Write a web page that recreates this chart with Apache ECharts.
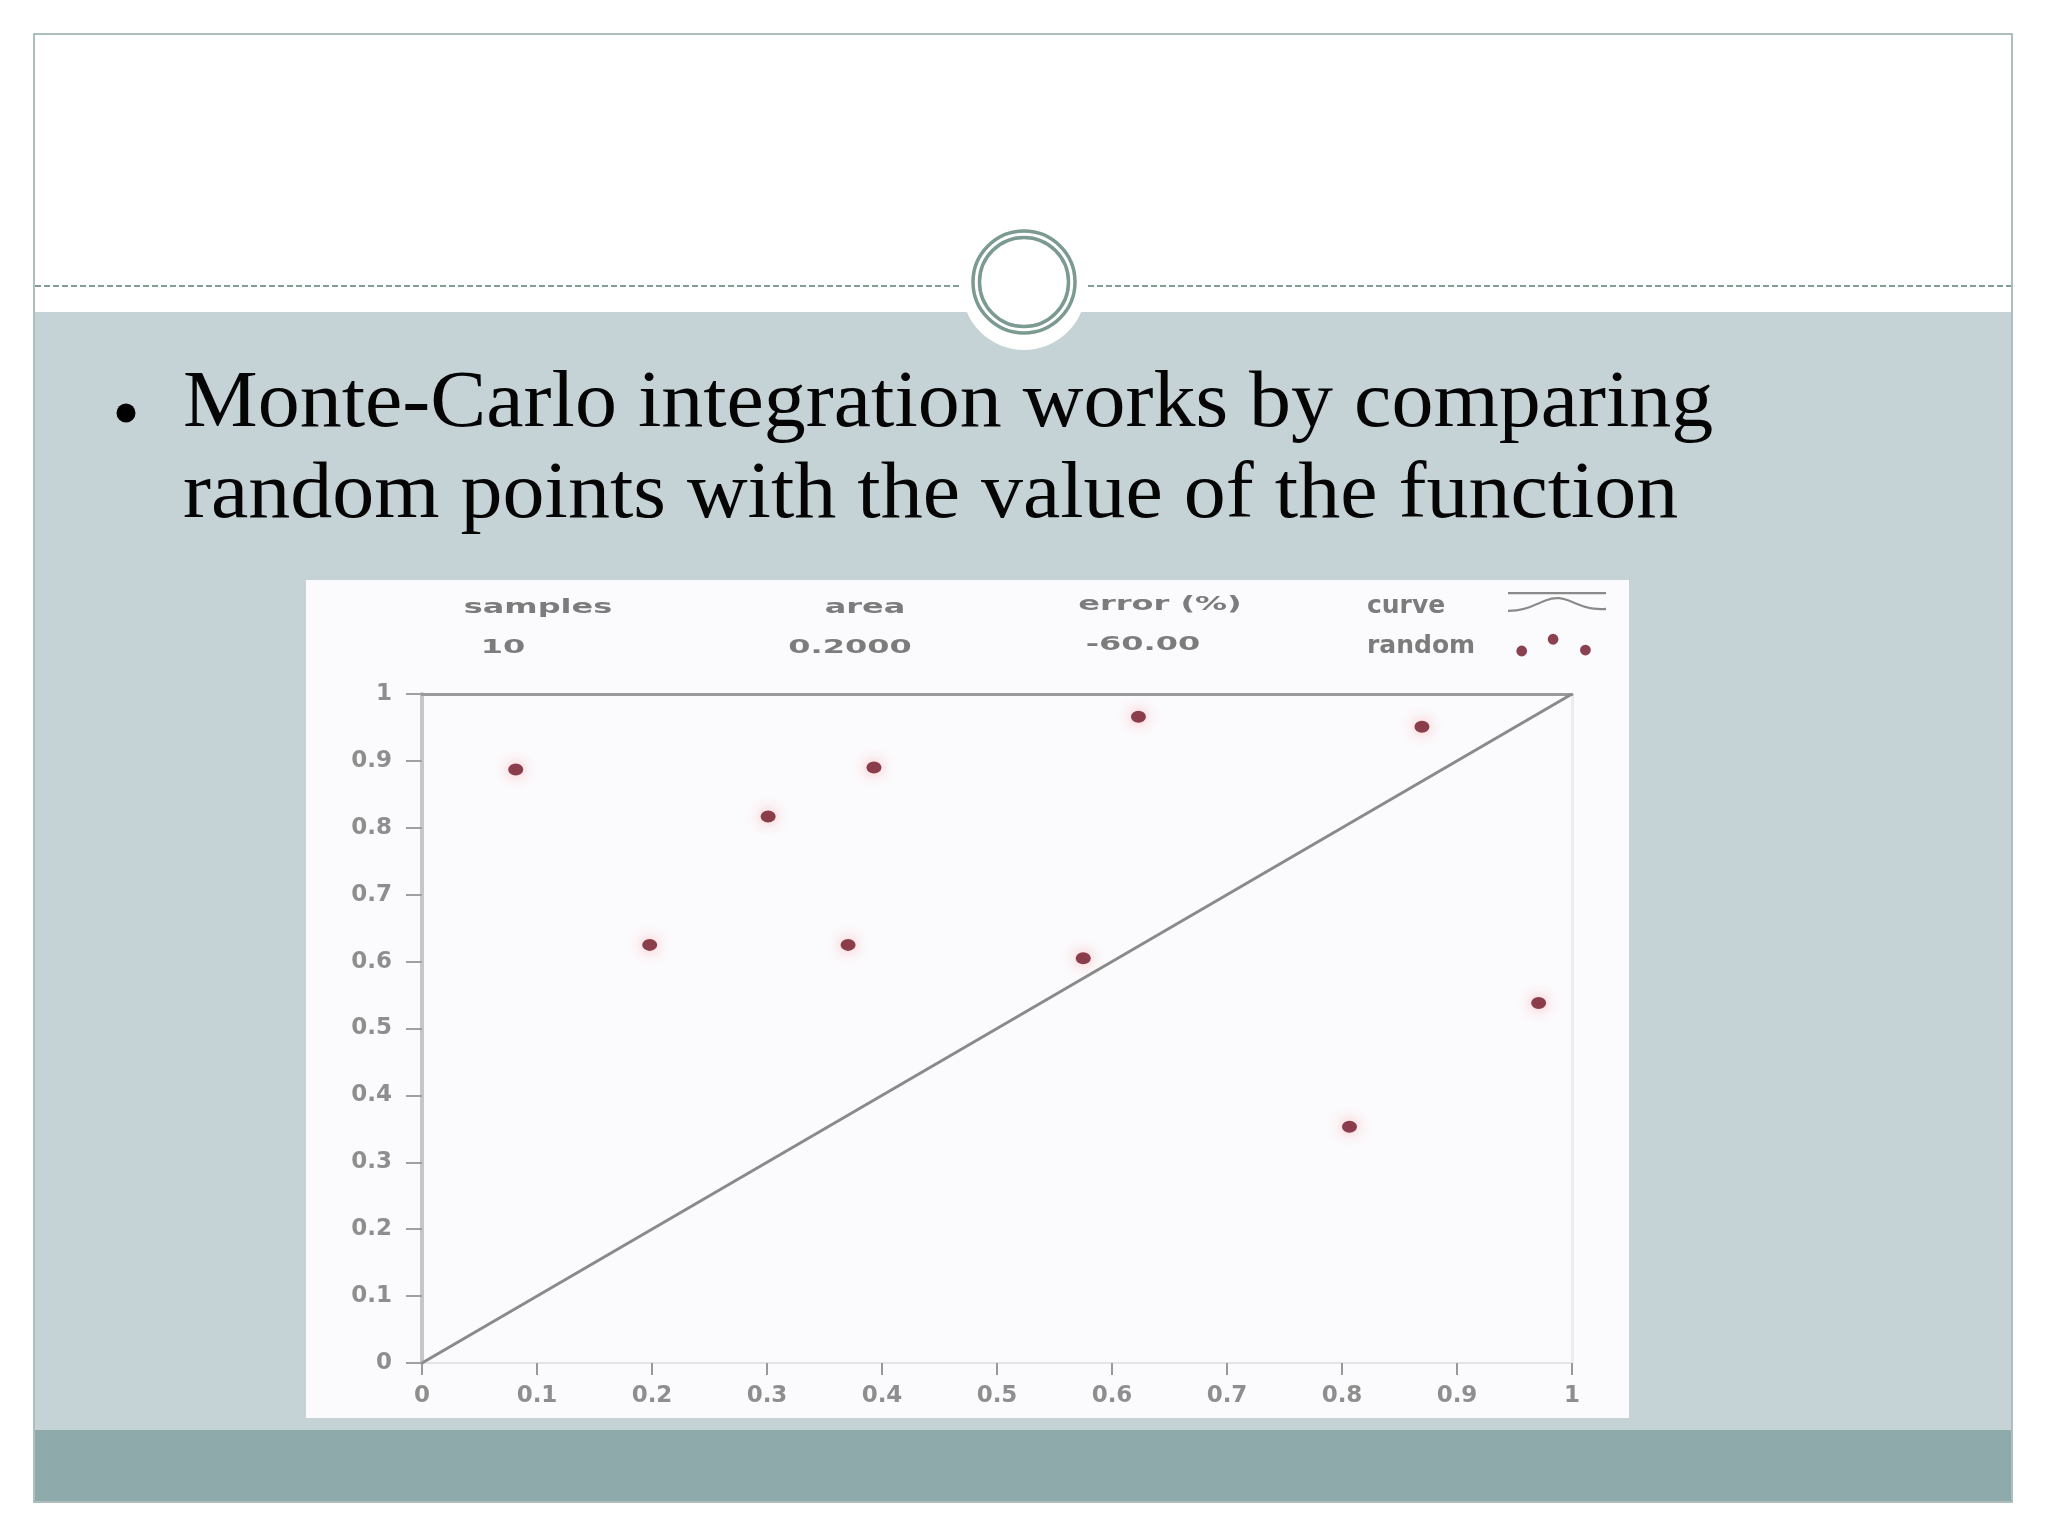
<!DOCTYPE html>
<html>
<head>
<meta charset="utf-8">
<script src="https://cdn.jsdelivr.net/npm/echarts@6/dist/echarts.min.js"></script>
<style>
html,body{margin:0;padding:0;background:#fff;}
#chart{width:2048px;height:1536px;}
</style>
</head>
<body>
<div id="chart"></div>
<script>
// ---- data ----
const bulletLines = [
  'Monte-Carlo integration works by comparing',
  'random points with the value of the function'
];
const headerLabels = ['samples', 'area', 'error (%)'];
const headerValues = ['10', '0.2000', '-60.00'];
const seriesNames = ['curve', 'random'];
const curveX = [0, 1];
const curveY = [0, 1];
const randomX = [0.0815, 0.198, 0.301, 0.3705, 0.393, 0.575, 0.623, 0.8065, 0.8695, 0.971];
const randomY = [0.887, 0.625, 0.817, 0.625, 0.890, 0.605, 0.966, 0.353, 0.951, 0.538];
const xTickLabels = ['0', '0.1', '0.2', '0.3', '0.4', '0.5', '0.6', '0.7', '0.8', '0.9', '1'];
const yTickLabels = ['0', '0.1', '0.2', '0.3', '0.4', '0.5', '0.6', '0.7', '0.8', '0.9', '1'];

// ---- build ----
const chart = echarts.init(document.getElementById('chart'));
const tickFmt = arr => v => { const i = Math.round(v * 10); return arr[i] !== undefined ? arr[i] : ''; };

const headerPos = [[538, 608, 503, 648], [865, 608, 850, 648], [1160, 605, 1143, 645]];
const headerEls = [];
headerLabels.forEach((t, i) => {
  const p = headerPos[i];
  headerEls.push({ type: 'text', x: p[0], y: p[1], scaleX: 1.6, z: 20,
    style: { text: t, x: 0, y: 0, align: 'center', verticalAlign: 'middle', fontSize: 20, fontWeight: 'bold', fontFamily: 'DejaVu Sans', fill: '#7c7c7c' } });
  headerEls.push({ type: 'text', x: p[2], y: p[3], scaleX: 1.6, z: 20,
    style: { text: headerValues[i], x: 0, y: 0, align: 'center', verticalAlign: 'middle', fontSize: 20, fontWeight: 'bold', fontFamily: 'DejaVu Sans', fill: '#7c7c7c' } });
});

const curveIcon = 'path://M0,0L100,0L100,2.2L0,2.2Z M0,18 C25,18 35,5 50,5 C65,5 75,18 100,16 L100,18.5 C75,20.5 65,7.5 50,7.5 C35,7.5 25,20.5 0,20.5Z M99.9,29.9L100,30L99.9,30Z';
const randomIcon = 'path://M0,0L0.1,0L0,0.1Z M100,30L99.9,30L100,29.9Z M8.5,20a5.5,5.5 0 1,0 11,0a5.5,5.5 0 1,0 -11,0Z M40.5,8a5.5,5.5 0 1,0 11,0a5.5,5.5 0 1,0 -11,0Z M73.5,19a5.5,5.5 0 1,0 11,0a5.5,5.5 0 1,0 -11,0Z';

const option = {
  backgroundColor: '#ffffff',
  animation: false,
  graphic: [
    // slide frame & bands
    { type: 'rect', z: -20, shape: { x: 34, y: 34, width: 1978, height: 1468 }, style: { fill: '#ffffff', stroke: '#93aaa8', lineWidth: 1.5 } },
    { type: 'rect', z: -19, shape: { x: 35, y: 312, width: 1976, height: 1118 }, style: { fill: '#c5d2d6' } },
    { type: 'rect', z: -19, shape: { x: 35, y: 1430, width: 1976, height: 71 }, style: { fill: '#8eaaab' } },
    { type: 'line', z: -18, shape: { x1: 35, y1: 286, x2: 2011, y2: 286 }, style: { stroke: '#7f9c96', lineWidth: 2, lineDash: [6, 3] } },
    { type: 'circle', z: -17, shape: { cx: 1024, cy: 288, r: 62 }, style: { fill: '#ffffff' } },
    { type: 'circle', z: -16, shape: { cx: 1024, cy: 282, r: 51 }, style: { fill: 'none', stroke: '#7a9a92', lineWidth: 3.5 } },
    { type: 'circle', z: -16, shape: { cx: 1024, cy: 282, r: 44.5 }, style: { fill: 'none', stroke: '#7a9a92', lineWidth: 3.5 } },
    // bullet text
    { type: 'circle', z: -15, shape: { cx: 126, cy: 413, r: 9.5 }, style: { fill: '#000000' } },
    { type: 'text', z: -15, x: 183, y: 405, scaleX: 1.05, style: { text: bulletLines[0], x: 0, y: 0, verticalAlign: 'middle', fontSize: 80, fontFamily: 'Liberation Serif', fill: '#050505' } },
    { type: 'text', z: -15, x: 183, y: 496, scaleX: 1.05, style: { text: bulletLines[1], x: 0, y: 0, verticalAlign: 'middle', fontSize: 80, fontFamily: 'Liberation Serif', fill: '#050505' } },
    // chart panel
    { type: 'rect', z: -14, shape: { x: 306, y: 580, width: 1323, height: 838 }, style: { fill: '#fbfafc' } }
  ].concat(headerEls),
  legend: {
    orient: 'vertical', left: 1367, top: 592, padding: 0, align: 'right',
    itemWidth: 98, itemHeight: 30, itemGap: 10,
    data: [{ name: seriesNames[0], icon: curveIcon }, { name: seriesNames[1], icon: randomIcon }],
    formatter: name => '{t|' + name + '}',
    textStyle: { rich: { t: { width: 136, align: 'left', fontSize: 25, fontWeight: 'bold', color: '#7c7c7c', fontFamily: 'DejaVu Sans' } } }
  },
  grid: { left: 422, right: 476, top: 694, bottom: 173, containLabel: false },
  xAxis: [
    { type: 'value', min: 0, max: 1, interval: 0.1, position: 'bottom',
      axisLine: { show: true, onZero: false, lineStyle: { color: '#e4e4e4', width: 2 } },
      axisTick: { show: true, length: 12, lineStyle: { color: '#999', width: 2 } },
      axisLabel: { margin: 22, fontSize: 23, fontWeight: 'bold', color: '#8e8e8e', fontFamily: 'DejaVu Sans', formatter: tickFmt(xTickLabels) },
      splitLine: { show: false } },
    { type: 'value', min: 0, max: 1, position: 'top',
      axisLine: { show: true, onZero: false, lineStyle: { color: '#9a9a9a', width: 3 } },
      axisTick: { show: false }, axisLabel: { show: false }, splitLine: { show: false } }
  ],
  yAxis: [
    { type: 'value', min: 0, max: 1, interval: 0.1, position: 'left',
      axisLine: { show: true, onZero: false, lineStyle: { color: '#c6c6c6', width: 4 } },
      axisTick: { show: true, length: 16, lineStyle: { color: '#a0a0a0', width: 2 } },
      axisLabel: { margin: 30, fontSize: 23, fontWeight: 'bold', color: '#8e8e8e', fontFamily: 'DejaVu Sans', formatter: tickFmt(yTickLabels) },
      splitLine: { show: false } },
    { type: 'value', min: 0, max: 1, position: 'right',
      axisLine: { show: true, onZero: false, lineStyle: { color: '#ececec', width: 3 } },
      axisTick: { show: false }, axisLabel: { show: false }, splitLine: { show: false } }
  ],
  series: [
    { name: seriesNames[0], type: 'line', xAxisIndex: 0, yAxisIndex: 0,
      data: curveX.map((x, i) => [x, curveY[i]]), showSymbol: false, symbol: 'none',
      color: '#8a8a8a', lineStyle: { color: '#8a8a8a', width: 3 } },
    { name: seriesNames[1], type: 'scatter', xAxisIndex: 0, yAxisIndex: 0,
      data: randomX.map((x, i) => [x, randomY[i]]), symbol: 'circle', symbolSize: [15, 12],
      itemStyle: { color: '#6e1424', shadowBlur: 14, shadowColor: 'rgba(255,60,60,0.5)' } }
  ]
};
chart.setOption(option);
</script>
</body>
</html>
